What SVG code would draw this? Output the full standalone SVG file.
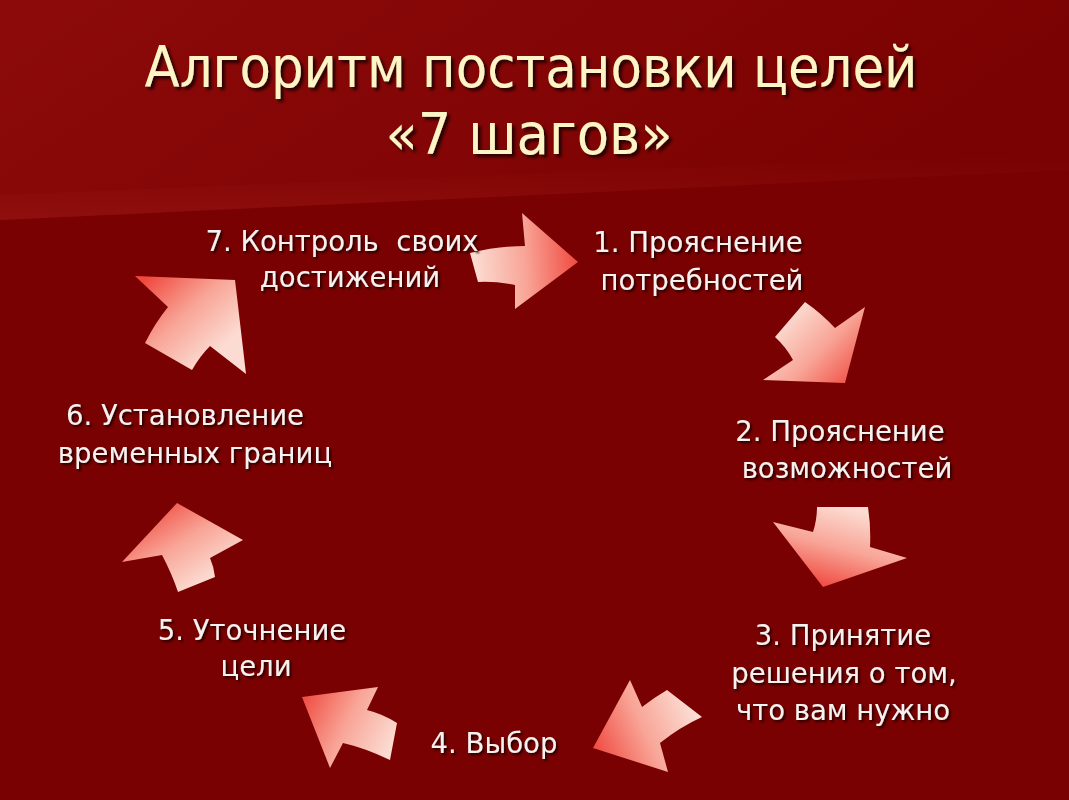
<svg xmlns="http://www.w3.org/2000/svg" width="1069" height="800" viewBox="0 0 1069 800">
<defs>
<linearGradient id="bgTop" x1="0" y1="0" x2="1" y2="0.3">
<stop offset="0" stop-color="#8c0a0a"/>
<stop offset="0.6" stop-color="#830505"/>
<stop offset="1" stop-color="#7a0202"/>
</linearGradient>
<linearGradient id="band" x1="0" y1="0" x2="0" y2="1">
<stop offset="0" stop-color="#8a0a0a" stop-opacity="0"/>
<stop offset="1" stop-color="#931512" stop-opacity="0.6"/>
</linearGradient>
<linearGradient id="gA" gradientUnits="userSpaceOnUse" x1="474" y1="268" x2="578" y2="262">
<stop offset="0" stop-color="#fcdcd2"/><stop offset="0.5" stop-color="#f8a496"/><stop offset="1" stop-color="#f04a40"/>
</linearGradient>
<linearGradient id="gB" gradientUnits="userSpaceOnUse" x1="785" y1="318" x2="855" y2="385">
<stop offset="0" stop-color="#fcdcd2"/><stop offset="0.5" stop-color="#f8a496"/><stop offset="1" stop-color="#f04a40"/>
</linearGradient>
<linearGradient id="gC" gradientUnits="userSpaceOnUse" x1="845" y1="507" x2="823" y2="587">
<stop offset="0" stop-color="#fcdcd2"/><stop offset="0.5" stop-color="#f8a496"/><stop offset="1" stop-color="#f04a40"/>
</linearGradient>
<linearGradient id="gD" gradientUnits="userSpaceOnUse" x1="690" y1="705" x2="593" y2="748">
<stop offset="0" stop-color="#fcdcd2"/><stop offset="0.5" stop-color="#f8a496"/><stop offset="1" stop-color="#f04a40"/>
</linearGradient>
<linearGradient id="gE" gradientUnits="userSpaceOnUse" x1="394" y1="742" x2="302" y2="697">
<stop offset="0" stop-color="#fcdcd2"/><stop offset="0.5" stop-color="#f8a496"/><stop offset="1" stop-color="#f04a40"/>
</linearGradient>
<linearGradient id="gF" gradientUnits="userSpaceOnUse" x1="200" y1="585" x2="150" y2="505">
<stop offset="0" stop-color="#fcdcd2"/><stop offset="0.5" stop-color="#f8a496"/><stop offset="1" stop-color="#f04a40"/>
</linearGradient>
<linearGradient id="gG" gradientUnits="userSpaceOnUse" x1="210" y1="360" x2="140" y2="285">
<stop offset="0" stop-color="#fcdcd2"/><stop offset="0.5" stop-color="#f8a496"/><stop offset="1" stop-color="#f04a40"/>
</linearGradient>
<filter id="shadow" x="-10%" y="-30%" width="120%" height="160%">
<feDropShadow dx="2" dy="2" stdDeviation="1.2" flood-color="#1a0000" flood-opacity="0.9"/>
</filter>
<filter id="tshadow" x="-10%" y="-30%" width="120%" height="160%">
<feDropShadow dx="3" dy="3" stdDeviation="1.5" flood-color="#1a0000" flood-opacity="0.9"/>
</filter>
</defs>
<style>
.arrow { stroke: none; }
.lbl { font-family: "DejaVu Sans", "Noto Sans", sans-serif; font-size: 27.5px; fill: #f7f2f0; text-anchor: middle; filter: url(#shadow); white-space: pre; }
.title { font-family: "DejaVu Sans", "Noto Sans", sans-serif; font-size: 57px; fill: #fdf5c6; text-anchor: middle; filter: url(#tshadow); }
</style>

<rect width="1069" height="800" fill="#790101"/>
<polygon points="0,0 1069,0 1069,170 0,220" fill="url(#bgTop)"/>
<polygon points="0,195 1069,152 1069,170 0,220" fill="url(#band)"/>

<g id="title">
<text class="title" x="531" y="87" textLength="773" lengthAdjust="spacingAndGlyphs">Алгоритм постановки целей</text>
<text class="title" x="529" y="154" textLength="287" lengthAdjust="spacingAndGlyphs">«7 шагов»</text>
</g>

<g id="connectors">
<path class="arrow" fill="url(#gA)" d="M470,253 Q497,246 525,246 L522,213 L578,262 L515,309 L515,285 Q495,281 478,282 Z"/>
<path class="arrow" fill="url(#gB)" d="M805,302 Q821,313 835,328 L865,307 L845,383 L763,380 L793,360 Q786,347 775,337 Z"/>
<path class="arrow" fill="url(#gC)" d="M817,507 L868,507 Q871,527 870,547 L907,558 L823,587 L773,522 L813,532 Q817,520 817,507 Z"/>
<path class="arrow" fill="url(#gD)" d="M667,690 L702,717 Q680,727 660,743 L668,772 L593,748 L630,680 L642,707 Q655,697 667,690 Z"/>
<path class="arrow" fill="url(#gE)" d="M397,723 L390,760 Q365,748 343,743 L330,768 L302,697 L378,687 L367,710 Q383,714 397,723 Z"/>
<path class="arrow" fill="url(#gF)" d="M215,577 L178,592 Q172,574 162,555 L122,562 L177,503 L243,540 L210,558 Q214,567 215,577 Z"/>
<path class="arrow" fill="url(#gG)" d="M192,370 L145,343 Q155,323 168,307 L135,276 L235,280 L246,374 L210,346 Q200,356 192,370 Z"/>
</g>

<g id="step7">
<text class="lbl" x="342" y="251" xml:space="preserve">7. Контроль  своих</text>
<text class="lbl" x="350" y="287">достижений</text>
</g>
<g id="step1">
<text class="lbl" x="698" y="252">1. Прояснение</text>
<text class="lbl" x="702" y="290">потребностей</text>
</g>
<g id="step2">
<text class="lbl" x="840" y="441">2. Прояснение</text>
<text class="lbl" x="847" y="478">возможностей</text>
</g>
<g id="step3">
<text class="lbl" x="843" y="645">3. Принятие</text>
<text class="lbl" x="844" y="683">решения о том,</text>
<text class="lbl" x="843" y="720">что вам нужно</text>
</g>
<g id="step4">
<text class="lbl" x="494" y="753">4. Выбор</text>
</g>
<g id="step5">
<text class="lbl" x="252" y="640">5. Уточнение</text>
<text class="lbl" x="256" y="676">цели</text>
</g>
<g id="step6">
<text class="lbl" x="185" y="425">6. Установление</text>
<text class="lbl" x="195" y="463">временных границ</text>
</g>
</svg>
